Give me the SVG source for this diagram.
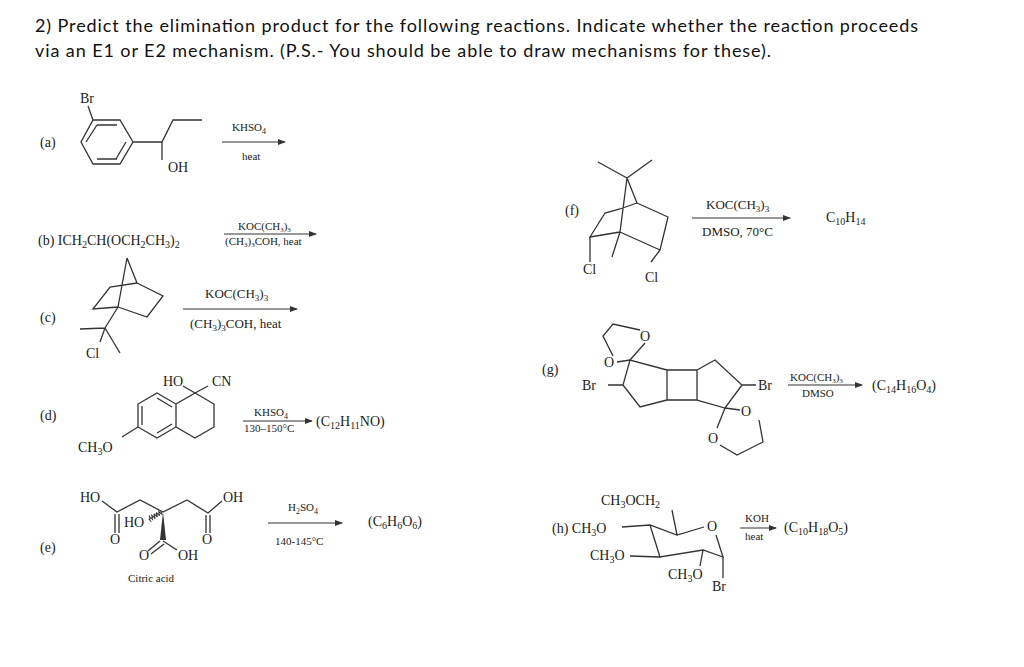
<svg xmlns="http://www.w3.org/2000/svg" width="1024" height="667" viewBox="0 0 1024 667">
<style>
.h{font-family:Lato,"Liberation Sans",sans-serif;font-size:18px;fill:#111}
.t{font-family:"Liberation Serif",serif;font-size:14px;fill:#222}
.s{font-family:"Liberation Serif",serif;font-size:11px;fill:#222}
.m{font-family:"Liberation Serif",serif;font-size:13px;fill:#222}
.b{fill:none;stroke:#333;stroke-width:1.3}
.a{stroke:#333;stroke-width:1.2;marker-end:url(#ah)}
</style>
<defs><marker id="ah" markerWidth="8" markerHeight="6" refX="7" refY="3" orient="auto" markerUnits="userSpaceOnUse"><path d="M0,0L8,3L0,6z" fill="#333"/></marker></defs>
<rect width="1024" height="667" fill="#fff"/>
<text class="h" x="35" y="32" textLength="883">2) Predict the elimination product for the following reactions. Indicate whether the reaction proceeds</text>
<text class="h" x="35" y="57" textLength="736">via an E1 or E2 mechanism. (P.S.- You should be able to draw mechanisms for these).</text>

<g id="a">
<text class="t" x="40" y="147">(a)</text>
<text class="t" x="80" y="103">Br</text>
<path class="b" d="M93,120L120,120L133,142L120,164L93,164L81,142Z M97,125L117,125 M126,142L116,159 M97,159L117,159 M86,142L97,125 M93,120L88,106 M133,142L162,142L173,120L202,120 M162,142L162,160"/>
<text class="t" x="168" y="172">OH</text>
<line class="a" x1="222" y1="142" x2="285" y2="142"/>
<text class="s" x="232" y="131">KHSO<tspan font-size="8" dy="3">4</tspan></text>
<text class="s" x="242" y="160">heat</text>
</g>

<g id="b">
<text class="t" x="38" y="245">(b) ICH<tspan font-size="10" dy="3">2</tspan><tspan dy="-3">CH(OCH</tspan><tspan font-size="10" dy="3">2</tspan><tspan dy="-3">CH</tspan><tspan font-size="10" dy="3">3</tspan><tspan dy="-3">)</tspan><tspan font-size="10" dy="3">2</tspan></text>
<line class="a" x1="224" y1="234" x2="316" y2="234"/>
<text class="s" x="238" y="230" font-size="9.5">KOC(CH<tspan font-size="7" dy="2">3</tspan><tspan dy="-2">)</tspan><tspan font-size="7" dy="2">3</tspan></text>
<text class="s" x="225" y="245" font-size="9.5">(CH<tspan font-size="7" dy="2">3</tspan><tspan dy="-2">)</tspan><tspan font-size="7" dy="2">3</tspan><tspan dy="-2">COH, heat</tspan></text>
</g>

<g id="c">
<text class="t" x="40" y="322">(c)</text>
<path class="b" d="M127,258L137,283 M127,258L118,307 M118,307L93,309L110,287L137,283 M118,307L147,317L163,296L137,283 M118,307L105,328 M105,328L80,329 M105,328L120,353 M105,328L100,342"/>
<text class="t" x="86" y="358">Cl</text>
<line class="a" x1="183" y1="309" x2="297" y2="309"/>
<text class="m" x="205" y="298">KOC(CH<tspan font-size="9" dy="3">3</tspan><tspan dy="-3">)</tspan><tspan font-size="9" dy="3">3</tspan></text>
<text class="m" x="190" y="328">(CH<tspan font-size="9" dy="3">3</tspan><tspan dy="-3">)</tspan><tspan font-size="9" dy="3">3</tspan><tspan dy="-3">COH, heat</tspan></text>
</g>

<g id="d">
<text class="t" x="40" y="420">(d)</text>
<path class="b" d="M157,393L176,404L176,427L157,438L138,427L138,404Z M157,398L172,407 M172,424L157,433 M142,406L142,425 M176,404L195,393L214,404L214,427L195,438L176,427 M195,393L183,386 M195,393L208,386 M138,427L122,437"/>
<text class="t" x="163" y="386">HO</text>
<text class="t" x="212" y="386">CN</text>
<text class="t" x="78" y="452">CH<tspan font-size="10" dy="3">3</tspan><tspan dy="-3">O</tspan></text>
<line class="a" x1="243" y1="421" x2="312" y2="421"/>
<text class="s" x="254" y="416">KHSO<tspan font-size="8" dy="3">4</tspan></text>
<text class="s" x="244" y="432">130–150°C</text>
<text class="t" x="316" y="426">(C<tspan font-size="10" dy="3">12</tspan><tspan dy="-3">H</tspan><tspan font-size="10" dy="3">11</tspan><tspan dy="-3">NO)</tspan></text>
</g>

<g id="e">
<text class="t" x="40" y="552">(e)</text>
<text class="t" x="80" y="502">HO</text>
<path class="b" d="M102,501L117,512L140,500L163,512L187,500L208,513L222,501 M115,514L115,533 M119,514L119,533 M206,515L206,533 M210,515L210,533"/>
<path d="M163,512L160,540L166,540Z" fill="#333"/>
<path class="b" d="M163,541L177,550"/>
<path d="M162,513L148,518 M160,512L149,521" stroke="#333" stroke-width="4" stroke-dasharray="1,1.5" fill="none"/>
<path class="b" d="M160,541L148,551 M164,544L151,554"/>
<text class="t" x="110" y="544">O</text>
<text class="t" x="124" y="527">HO</text>
<text class="t" x="202" y="544">O</text>
<text class="t" x="139" y="560">O</text>
<text class="t" x="178" y="560">OH</text>
<text class="t" x="223" y="502">OH</text>
<text class="s" x="128" y="582" font-size="12">Citric acid</text>
<line class="a" x1="268" y1="523" x2="342" y2="523"/>
<text class="s" x="288" y="511">H<tspan font-size="8" dy="3">2</tspan><tspan dy="-3">SO</tspan><tspan font-size="8" dy="3">4</tspan></text>
<text class="s" x="275" y="545">140-145°C</text>
<text class="t" x="368" y="526">(C<tspan font-size="10" dy="3">6</tspan><tspan dy="-3">H</tspan><tspan font-size="10" dy="3">6</tspan><tspan dy="-3">O</tspan><tspan font-size="10" dy="3">6</tspan><tspan dy="-3">)</tspan></text>
</g>

<g id="f">
<text class="t" x="565" y="215">(f)</text>
<path class="b" d="M627,178L598,162 M627,178L652,160 M627,178L637,203 M627,178L620,232 M620,232L612,257 M637,203L668,217L660,250 M660,250L620,232 M660,250L651,262 M620,232L590,237L605,213L620,209L637,203 M590,237L590,262"/>
<text class="t" x="583" y="274">Cl</text>
<text class="t" x="645" y="282">Cl</text>
<line class="a" x1="692" y1="218" x2="790" y2="218"/>
<text class="m" x="706" y="209">KOC(CH<tspan font-size="9" dy="3">3</tspan><tspan dy="-3">)</tspan><tspan font-size="9" dy="3">3</tspan></text>
<text class="m" x="702" y="236">DMSO, 70°C</text>
<text class="t" x="826" y="222">C<tspan font-size="10" dy="3">10</tspan><tspan dy="-3">H</tspan><tspan font-size="10" dy="3">14</tspan></text>
</g>

<g id="g">
<text class="t" x="542" y="374">(g)</text>
<path class="b" d="M667,370L697,370L697,400L667,400Z M667,370L630,360L623,385L640,407L667,400 M623,385L608,385 M630,360L617,362 M630,360L645,343 M613,356L603,336L613,324L640,330 M697,370L715,360L742,385L725,408L697,400 M742,385L756,385 M725,408L740,410 M725,408L717,428 M720,445L737,455L763,442L759,420"/>
<text class="t" x="604" y="367">O</text>
<text class="t" x="640" y="341">O</text>
<text class="t" x="582" y="390">Br</text>
<text class="t" x="758" y="390">Br</text>
<text class="t" x="741" y="416">O</text>
<text class="t" x="708" y="443">O</text>
<line class="a" x1="788" y1="385" x2="862" y2="385"/>
<text class="s" x="790" y="381" font-size="10">KOC(CH<tspan font-size="7" dy="2">3</tspan><tspan dy="-2">)</tspan><tspan font-size="7" dy="2">3</tspan></text>
<text class="s" x="802" y="397" font-size="10">DMSO</text>
<text class="t" x="872" y="390">(C<tspan font-size="10" dy="3">14</tspan><tspan dy="-3">H</tspan><tspan font-size="10" dy="3">16</tspan><tspan dy="-3">O</tspan><tspan font-size="10" dy="3">4</tspan><tspan dy="-3">)</tspan></text>
</g>

<g id="h">
<text class="t" x="601" y="505">CH<tspan font-size="10" dy="3">3</tspan><tspan dy="-3">OCH</tspan><tspan font-size="10" dy="3">2</tspan></text>
<text class="t" x="552" y="533">(h) CH<tspan font-size="10" dy="3">3</tspan><tspan dy="-3">O</tspan></text>
<text class="t" x="590" y="560">CH<tspan font-size="10" dy="3">3</tspan><tspan dy="-3">O</tspan></text>
<text class="t" x="668" y="579">CH<tspan font-size="10" dy="3">3</tspan><tspan dy="-3">O</tspan></text>
<text class="t" x="712" y="591">Br</text>
<text class="t" x="707" y="531">O</text>
<path class="b" d="M622,527L650,525L677,535L704,527 M650,525L660,557L703,550L723,557L716,535 M677,535L672,510 M660,557L630,556 M703,550L700,566 M723,557L723,578"/>
<line class="a" x1="740" y1="528" x2="776" y2="528"/>
<text class="s" x="745" y="522">KOH</text>
<text class="s" x="745" y="540">heat</text>
<text class="t" x="784" y="532">(C<tspan font-size="10" dy="3">10</tspan><tspan dy="-3">H</tspan><tspan font-size="10" dy="3">18</tspan><tspan dy="-3">O</tspan><tspan font-size="10" dy="3">5</tspan><tspan dy="-3">)</tspan></text>
</g>
</svg>
